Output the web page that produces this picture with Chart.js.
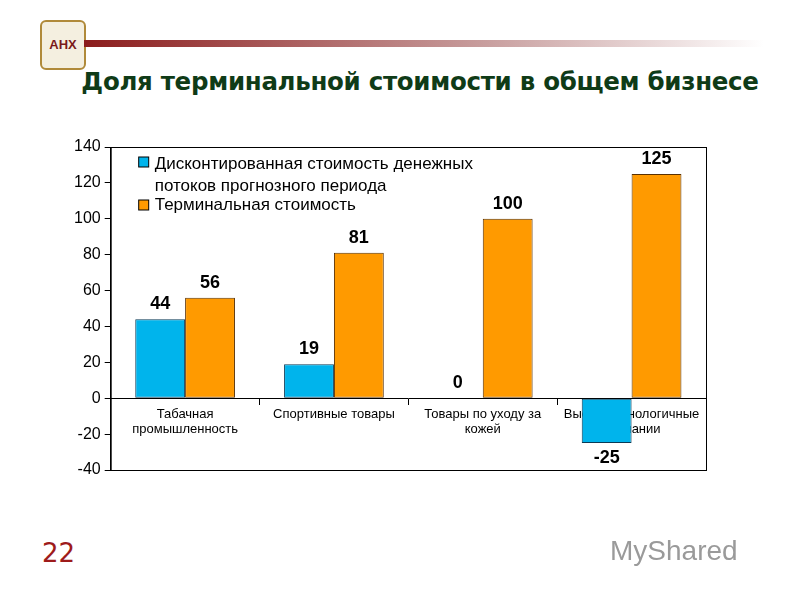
<!DOCTYPE html>
<html><head><meta charset="utf-8">
<script src="https://cdn.jsdelivr.net/npm/chart.js@4"></script>
<style>
body{margin:0;width:800px;height:600px;background:#fff;position:relative;overflow:hidden;font-family:Arial,"Liberation Sans",sans-serif}
#title{position:absolute;left:0;width:840px;top:67px;text-align:center;font:bold 24.5px "DejaVu Sans",sans-serif;color:#0f3b17;letter-spacing:-0.3px}
#num{position:absolute;left:42px;top:538px;font:26px Tahoma,"DejaVu Sans",sans-serif;color:#9e1b1b}
#bar{position:absolute;left:84px;top:40px;width:680px;height:7px;background:linear-gradient(to right,#8b1c1c,#c9a0a0 60%,#fff)}
#logo{position:absolute;left:40px;top:20px;width:42px;height:46px;border:2px solid #b08a3a;border-radius:6px;background:#f4efe0;font:bold 13px Arial;color:#7a1a1a;text-align:center;line-height:46px}
canvas{position:absolute;left:0;top:0}
</style></head><body>
<div id="logo">АНХ</div><div id="bar"></div>
<div id="title">Доля терминальной стоимости в общем бизнесе</div>
<div id="num">22</div>
<canvas id="c" width="800" height="600"></canvas>
<script>
const categories = [['Табачная','промышленность'],['Спортивные товары'],['Товары по уходу за','кожей'],['Высокотехнологичные','компании']];
const discounted = [44, 19, 0, -25];
const terminal = [56, 81, 100, 125];
const yTicks = [140, 120, 100, 80, 60, 40, 20, 0, -20, -40];

const overlay = {
  id: 'overlay',
  afterDatasetsDraw(chart) {
    const ctx = chart.ctx, a = chart.chartArea;
    ctx.save();
    ctx.strokeStyle = '#000'; ctx.lineWidth = 1;
    ctx.strokeRect(a.left + 0.5, a.top + 0.5, a.right - a.left, a.bottom - a.top);
    ctx.font = 'bold 18px Arial'; ctx.fillStyle = '#000'; ctx.textAlign = 'center';
    chart.data.datasets.forEach((ds, i) => {
      chart.getDatasetMeta(i).data.forEach((bar, j) => {
        const v = ds.data[j];
        ctx.textBaseline = v < 0 ? 'top' : 'bottom';
        ctx.fillText(String(v), bar.x, v < 0 ? bar.y + 6 : bar.y - 6);
      });
    });
    // legend
    ctx.font = '17px Arial'; ctx.textAlign = 'left'; ctx.textBaseline = 'middle';
    const lx = a.left + 28;
    ctx.fillStyle = '#00b4ec'; ctx.fillRect(lx, 157, 10, 10); ctx.strokeRect(lx, 157, 10, 10);
    ctx.fillStyle = '#000';
    ctx.fillText('Дисконтированная стоимость денежных', lx + 16, 164);
    ctx.fillText('потоков прогнозного периода', lx + 16, 186);
    ctx.fillStyle = '#ff9a00'; ctx.fillRect(lx, 200, 10, 10); ctx.strokeRect(lx, 200, 10, 10);
    ctx.fillStyle = '#000';
    ctx.fillText('Терминальная стоимость', lx + 16, 205);
    ctx.restore();
  }
};

new Chart(document.getElementById('c'), {
  type: 'bar',
  data: {
    labels: categories,
    datasets: [
      { label: 'Дисконтированная стоимость денежных потоков прогнозного периода', data: discounted,
        backgroundColor: '#00b4ec', borderColor: '#0a3a55', borderWidth: 1, borderSkipped: false },
      { label: 'Терминальная стоимость', data: terminal,
        backgroundColor: '#ff9a00', borderColor: '#5a3000', borderWidth: 1, borderSkipped: false }
    ]
  },
  options: {
    responsive: false, animation: false,
    layout: { padding: { left: 70, top: 147, right: 94, bottom: 130 } },
    plugins: { legend: { display: false }, tooltip: { enabled: false } },
    datasets: { bar: { categoryPercentage: 0.67, barPercentage: 1 } },
    scales: {
      x: {
        position: { y: 0 },
        grid: { drawOnChartArea: false, offset: true, color: '#000', tickLength: 6 },
        border: { color: '#000' },
        ticks: { color: '#000', font: { size: 13 }, maxRotation: 0, padding: 2 }
      },
      y: {
        min: -40, max: 140,
        afterBuildTicks: s => { s.ticks = yTicks.map(v => ({ value: v })); },
        grid: { drawOnChartArea: false, color: '#000', tickLength: 6 },
        border: { color: '#000' },
        ticks: { color: '#000', font: { size: 16 }, padding: 4 }
      }
    }
  },
  plugins: [overlay]
});
</script>
<div style="position:absolute;left:610px;top:535px;font:28px Arial;color:#9a9a9a">MyShared</div>
</body></html>
